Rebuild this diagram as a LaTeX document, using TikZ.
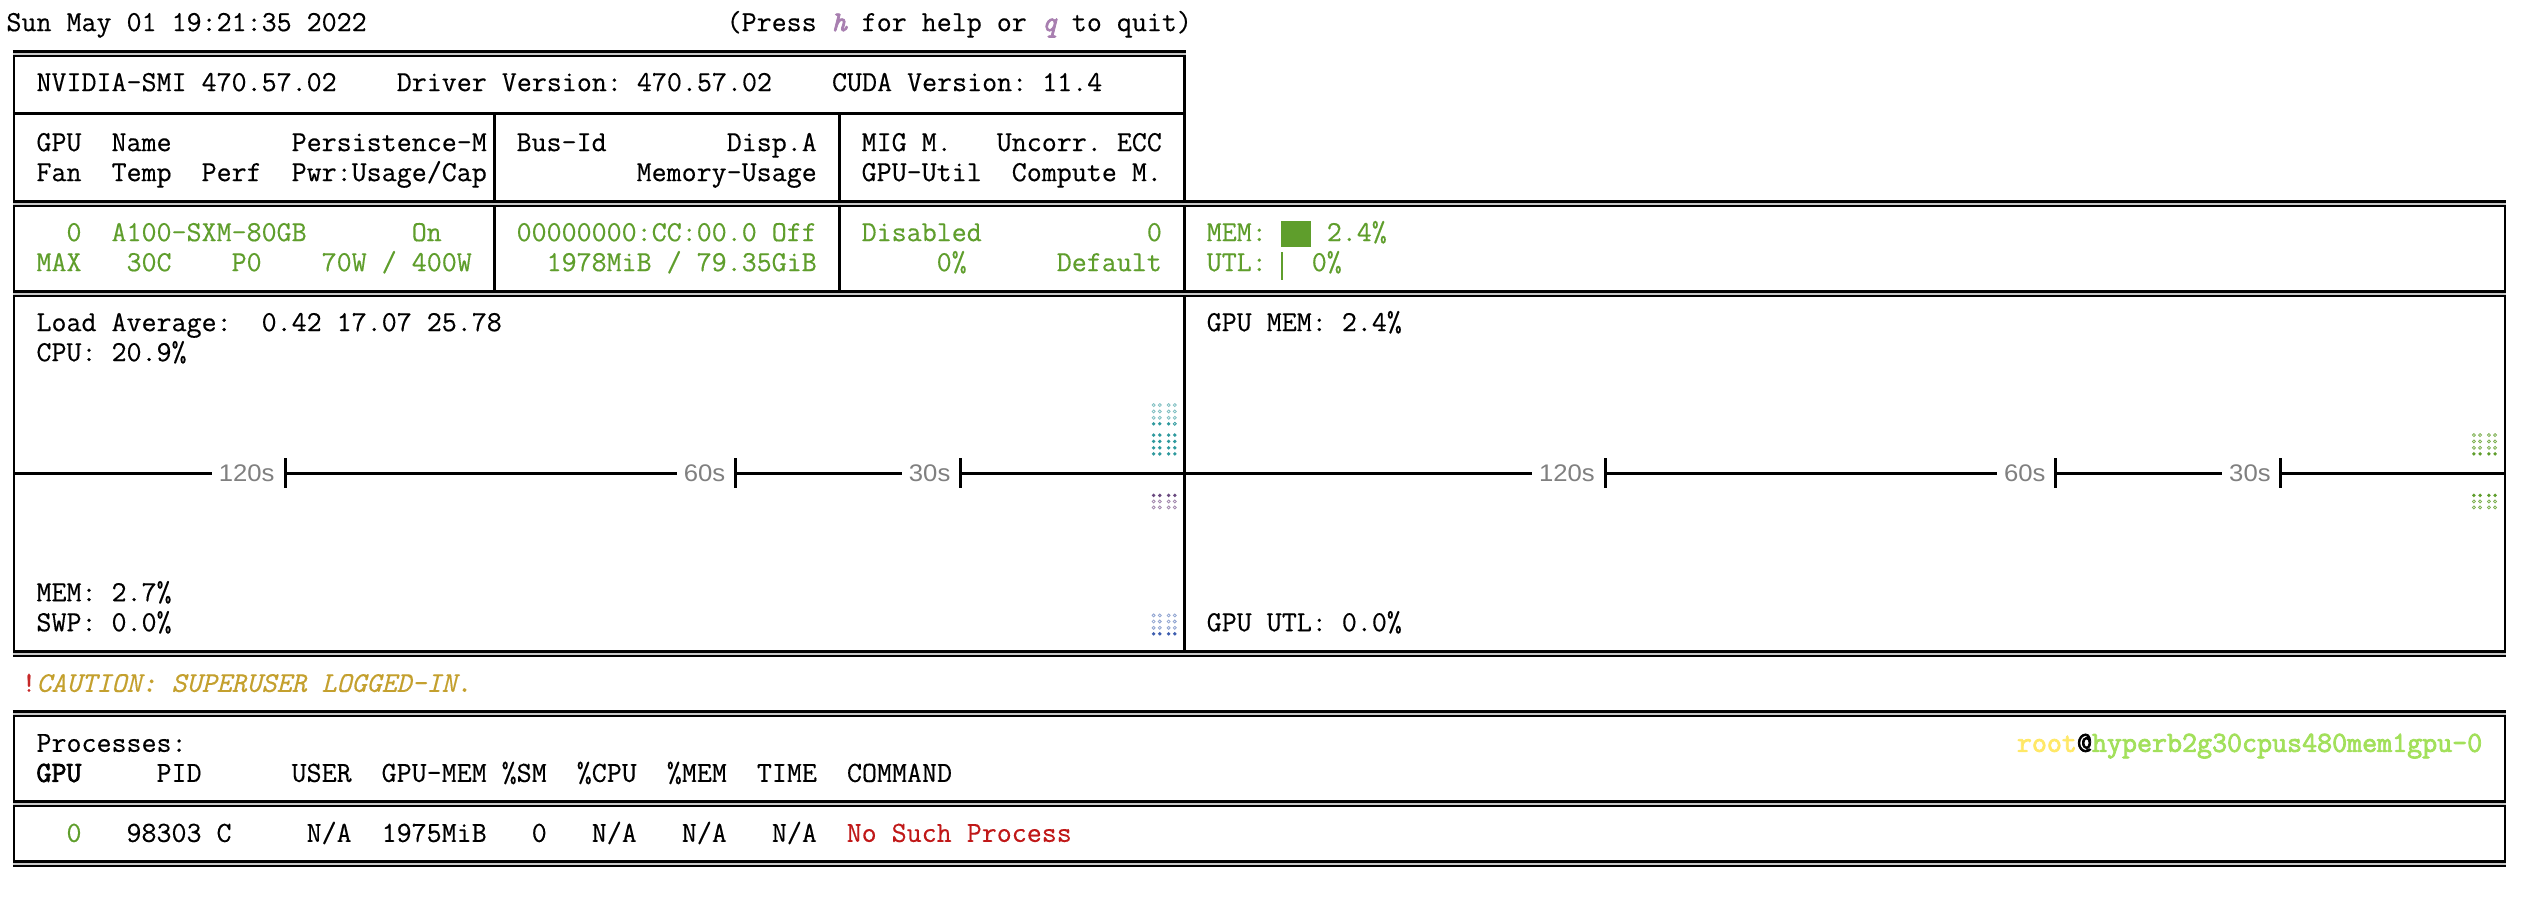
\documentclass[tikz,border=0pt]{standalone}
\usepackage{fontspec}
\setmonofont[FakeBold=0.35]{Latin Modern Mono}
\newfontfamily\ttheavy[FakeBold=2.6]{Latin Modern Mono}
\newfontfamily\axisfont{Liberation Sans}
\definecolor{smigreen}{HTML}{5F9E2C}
\definecolor{smigrey}{HTML}{808080}
\definecolor{cautionc}{HTML}{C4A02E}
\definecolor{alertc}{HTML}{C62828}
\definecolor{noproc}{HTML}{C01818}
\definecolor{keyc}{HTML}{A87FB0}
\definecolor{rootc}{HTML}{FFE866}
\definecolor{hostc}{HTML}{A2E05A}
\definecolor{tealf}{HTML}{2F9A9E}
\definecolor{tealh}{HTML}{7FBFC2}
\definecolor{purf}{HTML}{6B4A80}
\definecolor{purh}{HTML}{A388AE}
\definecolor{bluef}{HTML}{3F5FB0}
\definecolor{blueh}{HTML}{92A6D2}
\definecolor{grnh}{HTML}{7DB050}
\definecolor{midg}{HTML}{C8C8C8}
\newcommand{\Tt}{\ttfamily\fontsize{29.14}{30}\selectfont}
\newcommand{\Ti}{\ttfamily\itshape\fontsize{28.57}{30}\selectfont}
\newcommand{\Tb}{\ttheavy\fontsize{29.14}{30}\selectfont}
\newcommand{\Tk}{\ttheavy\itshape\fontsize{28.57}{30}\selectfont}
% one row of braille dots: column, row, offset, left flag, right flag, colour
\newcommand{\dotrow}[6]{%
  \foreach \dc/\st in {0.46/#4,0.87/#5}{%
    \ifnum\st=1\relax\fill[#6] (#1+\dc,#2-0.5+#3) circle[radius=1.9pt];\else\draw[#6,line width=0.8pt] (#1+\dc,#2-0.5+#3) circle[radius=1.5pt];\fi}}
\tikzset{
  txt/.style={anchor=base west,inner sep=0pt,outer sep=0pt,font=\Tt,text=black},
  ok/.style={txt,text=smigreen},
  axislab/.style={anchor=base west,inner sep=0pt,outer sep=0pt,text=smigrey,font=\axisfont\fontsize{24}{26}\selectfont},
  dbl/.style={draw=black,line width=2.4pt,double=midg,double distance=2pt},
  thin rule/.style={draw=black,line width=2.8pt},
  axis rule/.style={draw=black,line width=3pt}
}
\begin{document}
\begin{tikzpicture}[x=15pt,y=-30pt]
\useasboundingbox (-0.4333,-0.7667) rectangle (169.0,29.8333);
\fill[white] (-0.4333,-0.7667) rectangle (169.0,29.8333);
% verticals
\draw[thin rule] (0.5,1) -- (0.5,21);
\draw[thin rule] (0.5,23) -- (0.5,28);
\draw[thin rule] (32.53,3) -- (32.53,9);
\draw[thin rule] (55.53,3) -- (55.53,9);
\draw[thin rule] (78.53,1) -- (78.53,21);
\draw[thin rule] (166.53,6) -- (166.53,21);
\draw[thin rule] (166.53,23) -- (166.53,28);
% horizontals
\draw[dbl] (0.43,1.02) -- (78.63,1.02);
\draw[thin rule] (0.43,3.01) -- (78.63,3.01);
\draw[dbl] (0.43,6.02) -- (166.63,6.02);
\draw[dbl] (0.43,9.02) -- (166.63,9.02);
\draw[dbl] (0.43,21.02) -- (166.63,21.02);
\draw[dbl] (0.43,23.02) -- (166.63,23.02);
\draw[dbl] (0.43,26.02) -- (166.63,26.02);
\draw[dbl] (0.43,28.02) -- (166.63,28.02);
% header
\node[txt] (date) at (0,0.27) {Sun May 01 19:21:35 2022};
\node[txt] (help) at (48,0.27) {(Press \textcolor{keyc}{\Tk h} for help or \textcolor{keyc}{\Tk q} to quit)};
\node[txt] (ver) at (2,2.27) {NVIDIA-SMI 470.57.02~~~~Driver Version: 470.57.02~~~~CUDA Version: 11.4};
\node[txt] (h1a) at (2,4.27) {GPU~~Name~~~~~~~~Persistence-M};
\node[txt] (h1b) at (2,5.27) {Fan~~Temp~~Perf~~Pwr:Usage/Cap};
\node[txt] (h2a) at (34,4.27) {Bus-Id~~~~~~~~Disp.A};
\node[txt] (h2b) at (42,5.27) {Memory-Usage};
\node[txt] (h3a) at (57,4.27) {MIG M.~~~Uncorr. ECC};
\node[txt] (h3b) at (57,5.27) {GPU-Util~~Compute M.};
% device row
\node[ok] (d1a) at (4,7.27) {0~~A100-SXM-80GB~~~~~~~On};
\node[ok] (d1b) at (2,8.27) {MAX~~~30C~~~~P0~~~~70W / 400W};
\node[ok] (d2a) at (34,7.27) {00000000:CC:00.0 Off};
\node[ok] (d2b) at (36,8.27) {1978MiB / 79.35GiB};
\node[ok] (d3a) at (57,7.27) {Disabled~~~~~~~~~~~0};
\node[ok] (d3b) at (62,8.27) {0\%~~~~~~Default};
\node[ok] (memlab) at (80,7.27) {MEM:};
\node[ok] (memval) at (88,7.27) {2.4\%};
\node[ok] (utllab) at (80,8.27) {UTL:};
\node[ok] (utlval) at (87,8.27) {0\%};
\fill[smigreen] (84.97,6.6) rectangle (86.95,7.47);
\fill[smigreen] (84.93,7.63) rectangle (85.1,8.57);
% load
\node[txt] (load) at (2,10.27) {Load Average:~~0.42 17.07 25.78};
\node[txt] (cpu) at (2,11.27) {CPU: 20.9\%};
\node[txt] (gmem) at (80,10.27) {GPU MEM: 2.4\%};
\node[txt] (mem) at (2,19.27) {MEM: 2.7\%};
\node[txt] (swp) at (2,20.27) {SWP: 0.0\%};
\node[txt] (gutl) at (80,20.27) {GPU UTL: 0.0\%};
% time axis
\node[axislab] (l120) at (14.15,15.28) {\scalebox{1.07}[1]{120s}};
\node[axislab] (l60) at (45.15,15.28) {\scalebox{1.07}[1]{60s}};
\node[axislab] (l30) at (60.15,15.28) {\scalebox{1.07}[1]{30s}};
\node[axislab] (r120) at (102.15,15.28) {\scalebox{1.07}[1]{120s}};
\node[axislab] (r60) at (133.15,15.28) {\scalebox{1.07}[1]{60s}};
\node[axislab] (r30) at (148.15,15.28) {\scalebox{1.07}[1]{30s}};
\foreach \a/\b in {0.5/13.7,18.57/44.7,48.57/59.7,63.57/78.5,78.5/101.7,106.57/132.7,136.57/147.7,151.57/166.5}{
  \draw[axis rule] (\a,15) -- (\b,15);}
\foreach \t in {18,48,63,106,136,151}{
  \draw[black,line width=2.8pt] (\t+0.57,14.5) -- (\t+0.57,15.5);}
% processes
\node[txt,text=alertc] (bang) at (1,22.29) {!};
\node[anchor=base west,inner sep=0pt,outer sep=0pt,text=cautionc,font=\Ti] (caution) at (2,22.29) {CAUTION: SUPERUSER LOGGED-IN.};
\node[txt] (procs) at (2,24.29) {Processes:};
\node[txt,font=\Tb] (user) at (134,24.29) {\textcolor{rootc}{root}@\textcolor{hostc}{hyperb2g30cpus480mem1gpu-0}};
\node[txt,font=\Tb] (phead0) at (2,25.29) {GPU};
\node[txt] (phead) at (10,25.29) {PID~~~~~~USER~~GPU-MEM~\%SM~~\%CPU~~\%MEM~~TIME~~COMMAND};
\node[ok] (pgpu) at (4,27.29) {0};
\node[txt] (prow) at (8,27.29) {98303 C~~~~~N/A~~1975MiB~~~0~~~N/A~~~N/A~~~N/A};
\node[txt,text=noproc] (pcmd) at (56,27.29) {No Such Process};
% braille dots
\foreach \c in {76,77}{
  \foreach \r in {0.233,0.445,0.657}{
    \dotrow{\c}{13}{\r}{0}{0}{tealh}}
  \foreach \r in {0.233,0.445,0.657,0.86}{\dotrow{\c}{14}{\r}{1}{1}{tealf}}
  \dotrow{\c}{16}{0.243}{1}{1}{purf}
  \foreach \r in {0.445,0.645}{\dotrow{\c}{16}{\r}{0}{0}{purh}}
  \foreach \r in {0.243,0.445,0.657}{\dotrow{\c}{20}{\r}{0}{0}{blueh}}
  \dotrow{\c}{20}{0.857}{1}{1}{bluef}
}
\dotrow{76}{13}{0.857}{1}{1}{tealf}
\dotrow{77}{13}{0.857}{1}{0}{tealf}
\foreach \c in {164,165}{
  \foreach \r in {0.233,0.445,0.657}{\dotrow{\c}{14}{\r}{0}{0}{grnh}}
  \dotrow{\c}{14}{0.86}{1}{1}{smigreen}
  \dotrow{\c}{16}{0.243}{1}{1}{smigreen}
  \foreach \r in {0.445,0.645}{\dotrow{\c}{16}{\r}{0}{0}{grnh}}
}
\end{tikzpicture}
\end{document}
